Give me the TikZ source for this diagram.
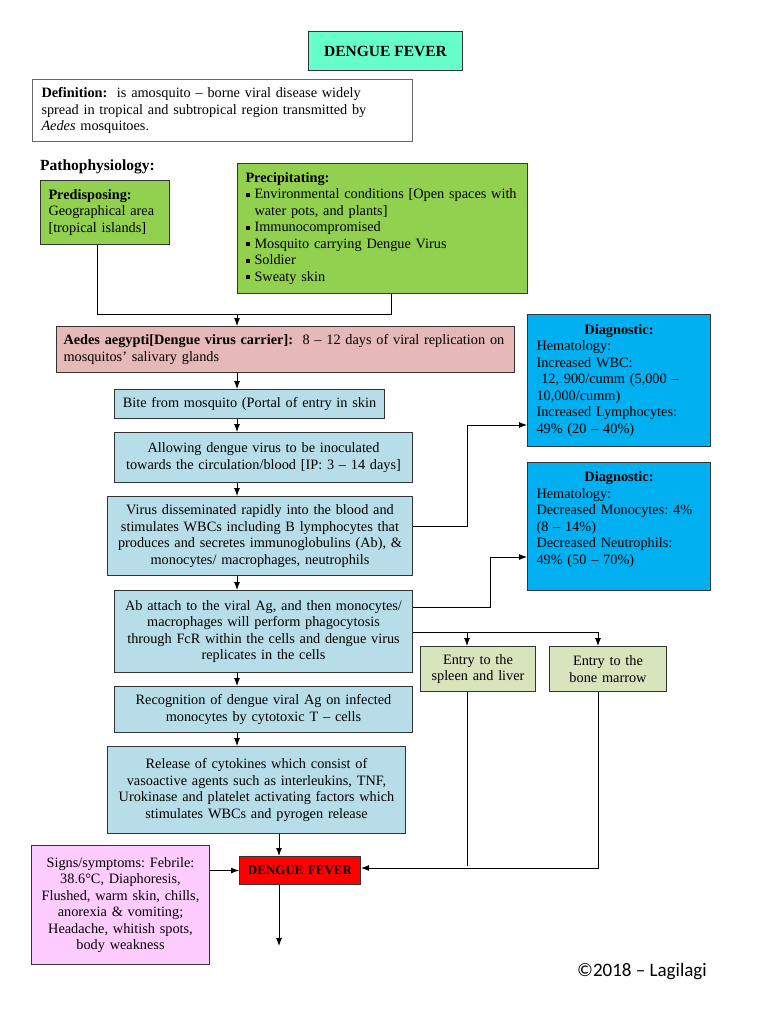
\documentclass[tikz,border=0pt]{standalone}
\usepackage{fontspec}
\setmainfont{Liberation Serif}
\newfontfamily\calfont{Carlito}
\usetikzlibrary{arrows.meta}
\definecolor{titlec}{HTML}{66FFCC}
\definecolor{greenc}{HTML}{92D050}
\definecolor{pinkc}{HTML}{E6B8B7}
\definecolor{lblue}{HTML}{B7DEE8}
\definecolor{dblue}{HTML}{00B0F0}
\definecolor{palec}{HTML}{D7E4BC}
\definecolor{lavc}{HTML}{FFCCFF}
\newcommand\bul{\makebox[9pt][l]{\rule[2pt]{4pt}{4pt}}}
\frenchspacing
\begin{document}
\begin{tikzpicture}[x=1pt,y=-1pt,
  bx/.style={draw=black!80, line width=1pt, anchor=north west, inner sep=4pt, font=\fontsize{14.3}{16.5}\selectfont},
  cbx/.style={bx, align=center},
  lbx/.style={bx, align=left},
  arr/.style={-{Latex[length=8pt,width=6pt]}, line width=0.9pt},
  ln/.style={line width=0.9pt}]
\useasboundingbox (0,0) rectangle (768,1024);
\fill[white] (0,0) rectangle (768,1024);

\node[bx, fill=titlec, minimum width=154, minimum height=39, font=\fontsize{15.5}{18}\selectfont\bfseries] (title) at (308,31) {DENGUE FEVER};

\node[lbx, draw=black!60, minimum width=380, minimum height=62, inner xsep=9pt, text width=362] (def) at (32,79)
 {\textbf{Definition:}\ \ is amosquito – borne viral disease widely\\ spread in tropical and subtropical region transmitted by\\ \textit{Aedes} mosquitoes.};

\node[anchor=west, inner sep=0, font=\fontsize{15.5}{18}\selectfont\bfseries] (patho) at (40,167) {Pathophysiology:};

\node[lbx, fill=greenc, minimum width=129, minimum height=64, inner xsep=8pt, text width=113] (pred) at (40,180)
 {\textbf{Predisposing:}\\ Geographical area\\{}[tropical islands]};

\node[lbx, fill=greenc, minimum width=290, minimum height=130, inner xsep=8pt, text width=274] (prec) at (237,163)
 {\textbf{Precipitating:}\\ \bul Environmental conditions [Open spaces with\\ \hspace*{9pt}water pots, and plants]\\ \bul Immunocompromised\\ \bul Mosquito carrying Dengue Virus\\ \bul Soldier\\ \bul Sweaty skin};

\node[lbx, fill=pinkc, minimum width=458, minimum height=46, inner xsep=7pt, text width=444] (aedes) at (56,326)
 {\textbf{Aedes aegypti[Dengue virus carrier]:}\ \ 8 – 12 days of viral replication on\\ mosquitos’ salivary glands};

\node[cbx, fill=lblue, minimum width=270, minimum height=29, text width=262] (bite) at (114,389)
 {Bite from mosquito (Portal of entry in skin};

\node[cbx, fill=lblue, minimum width=298, minimum height=50, text width=290] (allow) at (114,432)
 {Allowing dengue virus to be inoculated\\ towards the circulation/blood [IP: 3 – 14 days]};

\node[cbx, fill=lblue, minimum width=305, minimum height=79, text width=297] (virus) at (107,496)
 {Virus disseminated rapidly into the blood and\\ stimulates WBCs including B lymphocytes that\\ produces and secretes immunoglobulins (Ab), \&\\ monocytes/ macrophages, neutrophils};

\node[cbx, fill=lblue, minimum width=298, minimum height=82, text width=290] (ab) at (114,590)
 {Ab attach to the viral Ag, and then monocytes/\\ macrophages will perform phagocytosis\\ through FcR within the cells and dengue virus\\ replicates in the cells};

\node[cbx, fill=lblue, minimum width=298, minimum height=46, text width=290] (recog) at (114,686)
 {Recognition of dengue viral Ag on infected\\ monocytes by cytotoxic T – cells};

\node[cbx, fill=lblue, minimum width=298, minimum height=87, text width=290] (release) at (107,746)
 {Release of cytokines which consist of\\ vasoactive agents such as interleukins, TNF,\\ Urokinase and platelet activating factors which\\ stimulates WBCs and pyrogen release};

\node[cbx, fill=red, minimum width=121, minimum height=28, text width=113, font=\fontsize{13}{15}\selectfont\bfseries] (red) at (239,856)
 {DENGUE FEVER};

\node[cbx, fill=lavc, minimum width=178, minimum height=119, text width=170] (signs) at (31,845)
 {Signs/symptoms: Febrile:\\ 38.6°C, Diaphoresis,\\ Flushed, warm skin, chills,\\ anorexia \& vomiting;\\ Headache, whitish spots,\\ body weakness};

\node[cbx, fill=palec, minimum width=115, minimum height=45, text width=107] (spleen) at (420,646)
 {Entry to the\\ spleen and liver};
\node[cbx, fill=palec, minimum width=117, minimum height=45, text width=109] (bone) at (549,646)
 {Entry to the\\ bone marrow};

\node[bx, fill=dblue, minimum width=183, minimum height=132, inner xsep=9pt, text width=165] (diag1) at (527,314)
 {\centering\textbf{Diagnostic:}\par\raggedright Hematology:\\ Increased WBC:\\ \ 12, 900/cumm (5,000 –\\ 10,000/cumm)\\ Increased Lymphocytes:\\ 49\% (20 – 40\%)};

\node[bx, fill=dblue, minimum width=183, minimum height=128, inner xsep=9pt, text width=165] (diag2) at (527,462)
 {\centering\textbf{Diagnostic:}\par\raggedright Hematology:\\ Decreased Monocytes: 4\%\\{}(8 – 14\%)\\ Decreased Neutrophils:\\ 49\% (50 – 70\%)\\ \mbox{}};

\node[anchor=west, inner sep=0, font=\calfont\fontsize{19}{22}\selectfont] (copy) at (577,972) {©2018 – Lagilagi};

% connectors
\coordinate (jl) at (97,314);
\coordinate (jr) at (391,314);
\coordinate (jm) at (237,314);
\draw[ln] (pred.south -| jl) -- (jl) -- (jr) -- (prec.south -| jr);
\draw[arr] (jm) -- (aedes.north -| jm);
\coordinate (col) at (237,0);
\draw[arr] (aedes.south -| col) -- (bite.north -| col);
\draw[arr] (bite.south -| col) -- (allow.north -| col);
\draw[arr] (allow.south -| col) -- (virus.north -| col);
\draw[arr] (virus.south -| col) -- (ab.north -| col);
\draw[arr] (ab.south -| col) -- (recog.north -| col);
\draw[arr] (recog.south -| col) -- (release.north -| col);
\coordinate (col2) at (279,0);
\draw[arr] (release.south -| col2) -- (red.north -| col2);
\coordinate (endd) at (279,946);
\draw[arr] (red.south -| endd) -- (endd);
\draw[arr] (signs.east |- red.west) -- (red.west);

\coordinate (v1) at (467,526);
\coordinate (v2) at (467,425);
\draw[arr] (virus.east |- v1) -- (v1) -- (v2) -- (diag1.west |- v2);
\coordinate (a1) at (490,607);
\coordinate (a2) at (490,557);
\draw[arr] (ab.east |- a1) -- (a1) -- (a2) -- (diag2.west |- a2);

\coordinate (s0) at (467,632);
\coordinate (s1) at (598,632);
\draw[ln] (ab.east |- s0) -- (s1);
\draw[arr] (s0) -- (spleen.north -| s0);
\draw[arr] (s1) -- (bone.north -| s1);
\coordinate (s2) at (467,866);
\draw[ln] (spleen.south -| s2) -- (s2);
\coordinate (b2) at (598,868);
\draw[arr] (bone.south -| b2) -- (b2) -- (red.east |- b2);
\end{tikzpicture}
\end{document}
